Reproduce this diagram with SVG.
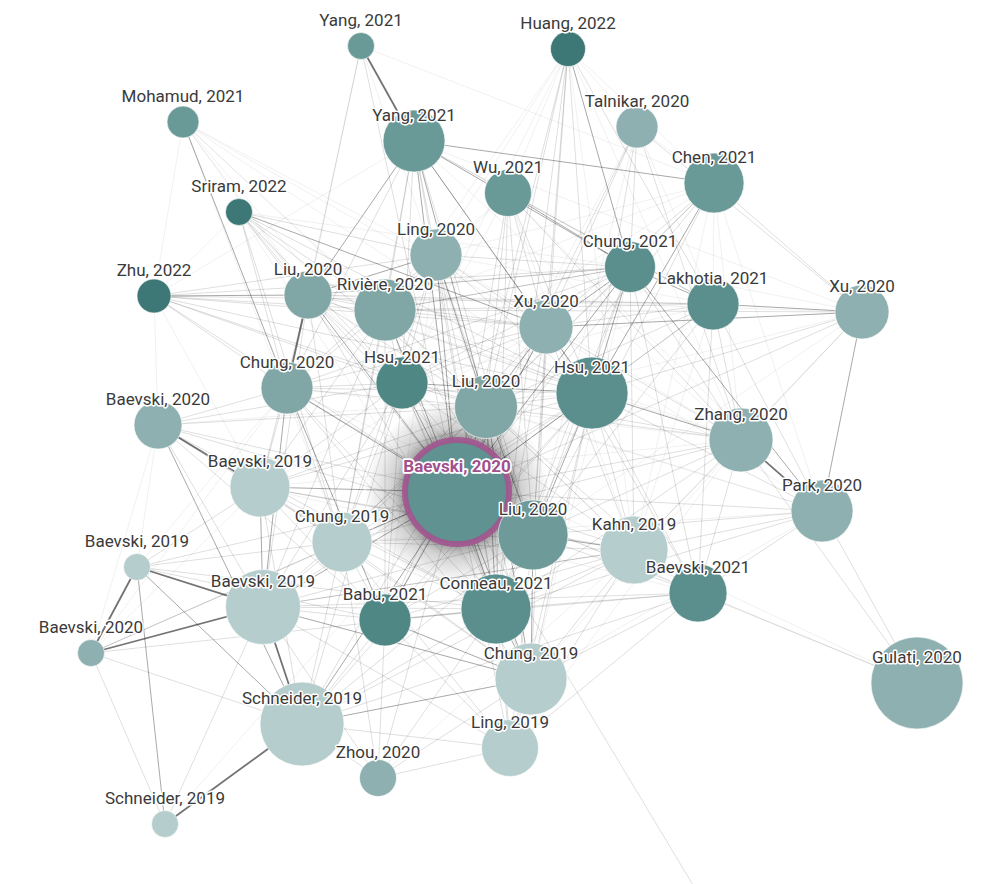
<svg xmlns="http://www.w3.org/2000/svg" width="992" height="884" viewBox="0 0 992 884">
<style>
#edges path{fill:none;stroke:#000;stroke-width:1}
#edges .a{stroke-opacity:.06}
#edges .b{stroke-opacity:.13}
#edges .c{stroke-opacity:.34}
#edges .d{stroke-opacity:.55;stroke-width:1.8}
circle{stroke:#fff;stroke-opacity:.6;stroke-width:1}
.k22{fill:#3d7876}.k21d{fill:#4f8785}.k21{fill:#5b8f8d}.k21l{fill:#6a9a98}.k20d{fill:#6e9b99}.k20{fill:#80a6a5}.k20l{fill:#8eb0b0}.k19{fill:#b5cdcc}
text{font-family:Roboto,"Liberation Sans",sans-serif;font-size:17px;text-anchor:middle;stroke:#fff;stroke-width:3;paint-order:stroke;stroke-linejoin:round}
.l{fill:#3a3a3a}
.hl{fill:#a0508c;font-weight:bold;stroke-width:3.5}
.hub{fill:#5f9290;stroke:#a3558f;stroke-width:6;stroke-opacity:.9}
</style>
<defs>
<radialGradient id="glow" gradientUnits="userSpaceOnUse" cx="457" cy="492" r="92">
<stop offset="0.55" stop-color="#000" stop-opacity=".42"/>
<stop offset="0.7" stop-color="#000" stop-opacity=".18"/>
<stop offset="1" stop-color="#000" stop-opacity="0"/>
</radialGradient>
</defs>
<rect width="992" height="884" fill="#fff"/>
<g id="edges">
<path class="b" d="M457 492L361 46"/><path class="b" d="M457 492L568 49"/><path class="a" d="M457 492L183 122"/><path class="b" d="M457 492L637 127"/><path class="c" d="M457 492L414 141"/><path class="b" d="M457 492L714 183"/><path class="b" d="M457 492L508 193"/><path class="b" d="M457 492L239 212"/><path class="c" d="M457 492L436 255"/><path class="c" d="M457 492L630 267"/><path class="b" d="M457 492L154 296"/><path class="c" d="M457 492L308 295"/><path class="c" d="M457 492L385 310"/><path class="b" d="M457 492L713 304"/><path class="b" d="M457 492L862 312"/><path class="c" d="M457 492L546 327"/><path class="c" d="M457 492L287 388"/><path class="c" d="M457 492L402 383"/><path class="c" d="M457 492L486 407"/><path class="c" d="M457 492L592 393"/><path class="b" d="M457 492L158 425"/><path class="b" d="M457 492L741 440"/><path class="c" d="M457 492L260 487"/><path class="b" d="M457 492L822 511"/><path class="c" d="M457 492L533 535"/><path class="b" d="M457 492L634 550"/><path class="c" d="M457 492L342 542"/><path class="b" d="M457 492L137 567"/><path class="c" d="M457 492L263 607"/><path class="c" d="M457 492L496 609"/><path class="c" d="M457 492L385 620"/><path class="b" d="M457 492L698 593"/><path class="b" d="M457 492L91 653"/><path class="c" d="M457 492L531 679"/><path class="a" d="M457 492L917 683"/><path class="c" d="M457 492L302 724"/><path class="b" d="M457 492L510 748"/><path class="b" d="M457 492L378 778"/><path class="a" d="M457 492L165 824"/><path class="b" d="M457 492L720 930"/>
<path class="d" d="M361 46L414 141"/><path class="b" d="M361 46L308 295"/><path class="a" d="M361 46L287 388"/><path class="a" d="M361 46L486 407"/><path class="a" d="M361 46L714 183"/>
<path class="b" d="M568 49L546 327"/><path class="b" d="M568 49L592 393"/><path class="c" d="M568 49L630 267"/><path class="b" d="M568 49L486 407"/><path class="b" d="M568 49L533 535"/><path class="b" d="M568 49L496 609"/><path class="a" d="M568 49L402 383"/><path class="b" d="M568 49L713 304"/><path class="a" d="M568 49L634 550"/><path class="a" d="M568 49L508 193"/><path class="a" d="M568 49L436 255"/><path class="a" d="M568 49L714 183"/><path class="a" d="M568 49L385 310"/><path class="a" d="M568 49L741 440"/><path class="a" d="M568 49L637 127"/>
<path class="c" d="M183 122L287 388"/><path class="a" d="M183 122L154 296"/><path class="a" d="M183 122L308 295"/><path class="a" d="M183 122L385 310"/><path class="a" d="M183 122L402 383"/><path class="a" d="M183 122L546 327"/><path class="a" d="M183 122L436 255"/><path class="a" d="M183 122L486 407"/><path class="a" d="M183 122L592 393"/><path class="a" d="M183 122L342 542"/>
<path class="b" d="M637 127L546 327"/><path class="b" d="M637 127L592 393"/><path class="b" d="M637 127L630 267"/><path class="a" d="M637 127L713 304"/><path class="b" d="M637 127L862 312"/><path class="b" d="M637 127L741 440"/><path class="a" d="M637 127L533 535"/><path class="a" d="M637 127L714 183"/><path class="a" d="M637 127L486 407"/>
<path class="c" d="M414 141L714 183"/><path class="c" d="M414 141L630 267"/><path class="c" d="M414 141L546 327"/><path class="c" d="M414 141L308 295"/><path class="b" d="M414 141L287 388"/><path class="b" d="M414 141L385 310"/><path class="b" d="M414 141L402 383"/><path class="c" d="M414 141L486 407"/><path class="b" d="M414 141L436 255"/><path class="b" d="M414 141L592 393"/><path class="a" d="M414 141L154 296"/><path class="b" d="M414 141L533 535"/><path class="b" d="M414 141L496 609"/><path class="b" d="M414 141L713 304"/><path class="a" d="M414 141L741 440"/><path class="a" d="M414 141L508 193"/><path class="b" d="M414 141L342 542"/><path class="a" d="M414 141L862 312"/>
<path class="c" d="M714 183L592 393"/><path class="b" d="M714 183L546 327"/><path class="b" d="M714 183L630 267"/><path class="a" d="M714 183L713 304"/><path class="b" d="M714 183L862 312"/><path class="a" d="M714 183L741 440"/><path class="b" d="M714 183L486 407"/><path class="b" d="M714 183L533 535"/><path class="a" d="M714 183L634 550"/><path class="a" d="M714 183L385 310"/><path class="a" d="M714 183L436 255"/><path class="a" d="M714 183L402 383"/><path class="a" d="M714 183L822 511"/>
<path class="c" d="M508 193L630 267"/><path class="b" d="M508 193L546 327"/><path class="b" d="M508 193L592 393"/><path class="b" d="M508 193L486 407"/><path class="b" d="M508 193L713 304"/><path class="b" d="M508 193L533 535"/><path class="b" d="M508 193L496 609"/><path class="b" d="M508 193L741 440"/><path class="a" d="M508 193L822 511"/><path class="a" d="M508 193L402 383"/><path class="a" d="M508 193L436 255"/><path class="a" d="M508 193L385 310"/><path class="a" d="M508 193L634 550"/>
<path class="b" d="M239 212L308 295"/><path class="b" d="M239 212L385 310"/><path class="b" d="M239 212L287 388"/><path class="b" d="M239 212L402 383"/><path class="c" d="M239 212L546 327"/><path class="b" d="M239 212L486 407"/><path class="b" d="M239 212L592 393"/><path class="b" d="M239 212L436 255"/><path class="a" d="M239 212L630 267"/><path class="a" d="M239 212L154 296"/><path class="b" d="M239 212L342 542"/><path class="a" d="M239 212L533 535"/><path class="a" d="M239 212L496 609"/>
<path class="c" d="M436 255L308 295"/><path class="b" d="M436 255L385 310"/><path class="b" d="M436 255L546 327"/><path class="c" d="M436 255L486 407"/><path class="b" d="M436 255L592 393"/><path class="b" d="M436 255L402 383"/><path class="b" d="M436 255L533 535"/><path class="b" d="M436 255L496 609"/><path class="b" d="M436 255L630 267"/><path class="b" d="M436 255L287 388"/><path class="b" d="M436 255L342 542"/><path class="a" d="M436 255L741 440"/><path class="a" d="M436 255L713 304"/><path class="b" d="M436 255L531 679"/><path class="a" d="M436 255L385 620"/>
<path class="c" d="M630 267L546 327"/><path class="c" d="M630 267L592 393"/><path class="c" d="M630 267L713 304"/><path class="b" d="M630 267L486 407"/><path class="b" d="M630 267L385 310"/><path class="b" d="M630 267L308 295"/><path class="b" d="M630 267L402 383"/><path class="b" d="M630 267L741 440"/><path class="c" d="M630 267L822 511"/><path class="b" d="M630 267L533 535"/><path class="b" d="M630 267L496 609"/><path class="b" d="M630 267L634 550"/><path class="a" d="M630 267L862 312"/><path class="b" d="M630 267L698 593"/><path class="b" d="M630 267L287 388"/><path class="a" d="M630 267L531 679"/>
<path class="c" d="M154 296L308 295"/><path class="b" d="M154 296L385 310"/><path class="b" d="M154 296L546 327"/><path class="b" d="M154 296L630 267"/><path class="b" d="M154 296L713 304"/><path class="b" d="M154 296L402 383"/><path class="b" d="M154 296L592 393"/><path class="b" d="M154 296L486 407"/><path class="b" d="M154 296L436 255"/><path class="b" d="M154 296L287 388"/><path class="a" d="M154 296L158 425"/><path class="a" d="M154 296L260 487"/>
<path class="d" d="M308 295L287 388"/><path class="b" d="M308 295L385 310"/><path class="b" d="M308 295L546 327"/><path class="b" d="M308 295L402 383"/><path class="b" d="M308 295L486 407"/><path class="b" d="M308 295L592 393"/><path class="b" d="M308 295L713 304"/><path class="b" d="M308 295L630 267"/><path class="b" d="M308 295L260 487"/><path class="b" d="M308 295L342 542"/><path class="b" d="M308 295L533 535"/><path class="b" d="M308 295L496 609"/><path class="b" d="M308 295L263 607"/><path class="a" d="M308 295L741 440"/><path class="a" d="M308 295L862 312"/>
<path class="b" d="M385 310L287 388"/><path class="b" d="M385 310L546 327"/><path class="b" d="M385 310L402 383"/><path class="b" d="M385 310L486 407"/><path class="b" d="M385 310L592 393"/><path class="b" d="M385 310L533 535"/><path class="b" d="M385 310L862 312"/><path class="b" d="M385 310L713 304"/><path class="b" d="M385 310L260 487"/><path class="b" d="M385 310L342 542"/><path class="b" d="M385 310L263 607"/><path class="b" d="M385 310L385 620"/><path class="b" d="M385 310L496 609"/><path class="a" d="M385 310L741 440"/><path class="b" d="M385 310L630 267"/><path class="a" d="M385 310L634 550"/>
<path class="c" d="M713 304L862 312"/><path class="b" d="M713 304L546 327"/><path class="b" d="M713 304L592 393"/><path class="b" d="M713 304L741 440"/><path class="b" d="M713 304L822 511"/><path class="b" d="M713 304L533 535"/><path class="b" d="M713 304L486 407"/><path class="b" d="M713 304L698 593"/><path class="a" d="M713 304L634 550"/><path class="a" d="M713 304L402 383"/>
<path class="c" d="M862 312L822 511"/><path class="c" d="M862 312L546 327"/><path class="b" d="M862 312L741 440"/><path class="b" d="M862 312L592 393"/><path class="a" d="M862 312L486 407"/><path class="a" d="M862 312L533 535"/><path class="a" d="M862 312L634 550"/>
<path class="c" d="M546 327L592 393"/><path class="c" d="M546 327L486 407"/><path class="b" d="M546 327L402 383"/><path class="b" d="M546 327L287 388"/><path class="b" d="M546 327L741 440"/><path class="b" d="M546 327L533 535"/><path class="b" d="M546 327L634 550"/><path class="b" d="M546 327L496 609"/><path class="b" d="M546 327L342 542"/><path class="b" d="M546 327L385 620"/><path class="a" d="M546 327L822 511"/><path class="b" d="M546 327L698 593"/><path class="b" d="M546 327L531 679"/><path class="a" d="M546 327L260 487"/>
<path class="b" d="M287 388L402 383"/><path class="b" d="M287 388L486 407"/><path class="b" d="M287 388L592 393"/><path class="b" d="M287 388L260 487"/><path class="b" d="M287 388L342 542"/><path class="c" d="M287 388L263 607"/><path class="c" d="M287 388L385 620"/><path class="b" d="M287 388L496 609"/><path class="b" d="M287 388L533 535"/><path class="b" d="M287 388L158 425"/><path class="a" d="M287 388L741 440"/><path class="a" d="M287 388L634 550"/><path class="a" d="M287 388L137 567"/><path class="a" d="M287 388L91 653"/><path class="b" d="M287 388L531 679"/>
<path class="b" d="M402 383L486 407"/><path class="c" d="M402 383L592 393"/><path class="b" d="M402 383L533 535"/><path class="b" d="M402 383L496 609"/><path class="b" d="M402 383L342 542"/><path class="b" d="M402 383L260 487"/><path class="b" d="M402 383L263 607"/><path class="b" d="M402 383L385 620"/><path class="b" d="M402 383L741 440"/><path class="b" d="M402 383L634 550"/><path class="b" d="M402 383L531 679"/><path class="b" d="M402 383L302 724"/><path class="a" d="M402 383L822 511"/>
<path class="b" d="M486 407L592 393"/><path class="c" d="M486 407L533 535"/><path class="c" d="M486 407L496 609"/><path class="b" d="M486 407L342 542"/><path class="b" d="M486 407L260 487"/><path class="b" d="M486 407L385 620"/><path class="b" d="M486 407L634 550"/><path class="b" d="M486 407L741 440"/><path class="b" d="M486 407L698 593"/><path class="c" d="M486 407L531 679"/><path class="b" d="M486 407L263 607"/><path class="b" d="M486 407L302 724"/><path class="b" d="M486 407L510 748"/><path class="a" d="M486 407L822 511"/>
<path class="c" d="M592 393L741 440"/><path class="c" d="M592 393L533 535"/><path class="b" d="M592 393L634 550"/><path class="b" d="M592 393L496 609"/><path class="b" d="M592 393L698 593"/><path class="b" d="M592 393L822 511"/><path class="b" d="M592 393L342 542"/><path class="b" d="M592 393L260 487"/><path class="b" d="M592 393L385 620"/><path class="b" d="M592 393L531 679"/><path class="b" d="M592 393L263 607"/><path class="b" d="M592 393L510 748"/><path class="b" d="M592 393L302 724"/><path class="a" d="M592 393L158 425"/>
<path class="d" d="M158 425L260 487"/><path class="c" d="M158 425L302 724"/><path class="b" d="M158 425L342 542"/><path class="b" d="M158 425L263 607"/><path class="b" d="M158 425L385 620"/><path class="b" d="M158 425L533 535"/><path class="b" d="M158 425L496 609"/><path class="a" d="M158 425L137 567"/><path class="a" d="M158 425L91 653"/><path class="b" d="M158 425L402 383"/><path class="b" d="M158 425L486 407"/>
<path class="d" d="M741 440L822 511"/><path class="b" d="M741 440L917 683"/><path class="b" d="M741 440L698 593"/><path class="b" d="M741 440L634 550"/><path class="b" d="M741 440L533 535"/><path class="b" d="M741 440L496 609"/><path class="a" d="M741 440L531 679"/><path class="b" d="M741 440L342 542"/><path class="a" d="M741 440L260 487"/><path class="a" d="M741 440L510 748"/>
<path class="c" d="M260 487L263 607"/><path class="b" d="M260 487L302 724"/><path class="b" d="M260 487L342 542"/><path class="b" d="M260 487L385 620"/><path class="b" d="M260 487L496 609"/><path class="b" d="M260 487L533 535"/><path class="b" d="M260 487L634 550"/><path class="b" d="M260 487L531 679"/><path class="b" d="M260 487L137 567"/><path class="a" d="M260 487L91 653"/><path class="a" d="M260 487L698 593"/>
<path class="b" d="M822 511L634 550"/><path class="b" d="M822 511L698 593"/><path class="b" d="M822 511L917 683"/><path class="b" d="M822 511L533 535"/><path class="a" d="M822 511L531 679"/><path class="b" d="M822 511L496 609"/><path class="a" d="M822 511L342 542"/>
<path class="c" d="M533 535L634 550"/><path class="b" d="M533 535L496 609"/><path class="c" d="M533 535L531 679"/><path class="b" d="M533 535L385 620"/><path class="b" d="M533 535L342 542"/><path class="b" d="M533 535L263 607"/><path class="b" d="M533 535L698 593"/><path class="b" d="M533 535L510 748"/><path class="b" d="M533 535L302 724"/>
<path class="b" d="M634 550L698 593"/><path class="b" d="M634 550L496 609"/><path class="b" d="M634 550L531 679"/><path class="b" d="M634 550L510 748"/><path class="b" d="M634 550L342 542"/><path class="b" d="M634 550L263 607"/><path class="b" d="M634 550L385 620"/><path class="b" d="M634 550L302 724"/><path class="a" d="M634 550L917 683"/><path class="a" d="M634 550L378 778"/>
<path class="b" d="M342 542L263 607"/><path class="b" d="M342 542L385 620"/><path class="b" d="M342 542L496 609"/><path class="b" d="M342 542L531 679"/><path class="b" d="M342 542L302 724"/><path class="b" d="M342 542L510 748"/><path class="b" d="M342 542L378 778"/><path class="b" d="M342 542L137 567"/><path class="b" d="M342 542L91 653"/>
<path class="d" d="M137 567L263 607"/><path class="d" d="M137 567L91 653"/><path class="c" d="M137 567L165 824"/><path class="c" d="M137 567L302 724"/><path class="b" d="M137 567L496 609"/><path class="b" d="M137 567L385 620"/>
<path class="d" d="M263 607L302 724"/><path class="b" d="M263 607L385 620"/><path class="b" d="M263 607L496 609"/><path class="c" d="M263 607L531 679"/><path class="b" d="M263 607L510 748"/><path class="b" d="M263 607L378 778"/><path class="b" d="M263 607L165 824"/><path class="d" d="M263 607L91 653"/><path class="b" d="M263 607L698 593"/><path class="b" d="M263 607L634 550"/>
<path class="c" d="M496 609L531 679"/><path class="b" d="M496 609L385 620"/><path class="b" d="M496 609L510 748"/><path class="b" d="M496 609L302 724"/><path class="b" d="M496 609L698 593"/><path class="b" d="M496 609L378 778"/>
<path class="c" d="M385 620L531 679"/><path class="b" d="M385 620L302 724"/><path class="b" d="M385 620L510 748"/><path class="b" d="M385 620L378 778"/><path class="b" d="M385 620L698 593"/>
<path class="b" d="M698 593L917 683"/><path class="b" d="M698 593L531 679"/><path class="b" d="M698 593L510 748"/><path class="b" d="M698 593L302 724"/>
<path class="b" d="M91 653L302 724"/><path class="b" d="M91 653L165 824"/><path class="b" d="M91 653L496 609"/>
<path class="b" d="M531 679L510 748"/><path class="c" d="M531 679L302 724"/><path class="b" d="M531 679L378 778"/>
<path class="d" d="M302 724L165 824"/><path class="b" d="M302 724L510 748"/><path class="b" d="M302 724L378 778"/>
<path class="b" d="M510 748L378 778"/>
</g>
<circle cx="457" cy="492" r="92" fill="url(#glow)" stroke="none"/>
<g id="nodes">
<g id="node-baevski-2020-hub"><circle class="hub" cx="457" cy="492" r="52"/></g>
<g id="node-yang-2021-a"><circle class="k21l" cx="361" cy="46" r="13.5"/><text class="l" x="361" y="26">Yang, 2021</text></g>
<g id="node-huang-2022"><circle class="k22" cx="568" cy="49" r="17.5"/><text class="l" x="568" y="29">Huang, 2022</text></g>
<g id="node-mohamud-2021"><circle class="k21l" cx="183" cy="122" r="16"/><text class="l" x="183" y="102">Mohamud, 2021</text></g>
<g id="node-talnikar-2020"><circle class="k20l" cx="637" cy="127" r="21"/><text class="l" x="637" y="107">Talnikar, 2020</text></g>
<g id="node-yang-2021-b"><circle class="k21l" cx="414" cy="141" r="31"/><text class="l" x="414" y="121">Yang, 2021</text></g>
<g id="node-chen-2021"><circle class="k21l" cx="714" cy="183" r="30"/><text class="l" x="714" y="163">Chen, 2021</text></g>
<g id="node-wu-2021"><circle class="k21l" cx="508" cy="193" r="23.5"/><text class="l" x="508" y="173">Wu, 2021</text></g>
<g id="node-sriram-2022"><circle class="k22" cx="239" cy="212" r="13.5"/><text class="l" x="239" y="192">Sriram, 2022</text></g>
<g id="node-ling-2020"><circle class="k20l" cx="436" cy="255" r="26"/><text class="l" x="436" y="235">Ling, 2020</text></g>
<g id="node-chung-2021"><circle class="k21" cx="630" cy="267" r="25.5"/><text class="l" x="630" y="247">Chung, 2021</text></g>
<g id="node-zhu-2022"><circle class="k22" cx="154" cy="296" r="17"/><text class="l" x="154" y="276">Zhu, 2022</text></g>
<g id="node-liu-2020-a"><circle class="k20" cx="308" cy="295" r="24"/><text class="l" x="308" y="275">Liu, 2020</text></g>
<g id="node-riviere-2020"><circle class="k20" cx="385" cy="310" r="31"/><text class="l" x="385" y="290">Rivière, 2020</text></g>
<g id="node-lakhotia-2021"><circle class="k21" cx="713" cy="304" r="26"/><text class="l" x="713" y="284">Lakhotia, 2021</text></g>
<g id="node-xu-2020-a"><circle class="k20l" cx="862" cy="312" r="27"/><text class="l" x="862" y="292">Xu, 2020</text></g>
<g id="node-xu-2020-b"><circle class="k20l" cx="546" cy="327" r="27"/><text class="l" x="546" y="307">Xu, 2020</text></g>
<g id="node-chung-2020"><circle class="k20" cx="287" cy="388" r="26"/><text class="l" x="287" y="368">Chung, 2020</text></g>
<g id="node-hsu-2021-a"><circle class="k21d" cx="402" cy="383" r="26"/><text class="l" x="402" y="363">Hsu, 2021</text></g>
<g id="node-liu-2020-b"><circle class="k20" cx="486" cy="407" r="31.5"/><text class="l" x="486" y="387">Liu, 2020</text></g>
<g id="node-hsu-2021-b"><circle class="k21" cx="592" cy="393" r="36"/><text class="l" x="592" y="373">Hsu, 2021</text></g>
<g id="node-baevski-2020-a"><circle class="k20l" cx="158" cy="425" r="24"/><text class="l" x="158" y="405">Baevski, 2020</text></g>
<g id="node-zhang-2020"><circle class="k20l" cx="741" cy="440" r="32"/><text class="l" x="741" y="420">Zhang, 2020</text></g>
<g id="node-baevski-2019-a"><circle class="k19" cx="260" cy="487" r="30"/><text class="l" x="260" y="467">Baevski, 2019</text></g>
<g id="node-park-2020"><circle class="k20l" cx="822" cy="511" r="31"/><text class="l" x="822" y="491">Park, 2020</text></g>
<g id="node-liu-2020-c"><circle class="k20d" cx="533" cy="535" r="35"/><text class="l" x="533" y="515">Liu, 2020</text></g>
<g id="node-kahn-2019"><circle class="k19" cx="634" cy="550" r="34"/><text class="l" x="634" y="530">Kahn, 2019</text></g>
<g id="node-chung-2019-a"><circle class="k19" cx="342" cy="542" r="30"/><text class="l" x="342" y="522">Chung, 2019</text></g>
<g id="node-baevski-2019-b"><circle class="k19" cx="137" cy="567" r="13.5"/><text class="l" x="137" y="547">Baevski, 2019</text></g>
<g id="node-baevski-2019-c"><circle class="k19" cx="263" cy="607" r="37.5"/><text class="l" x="263" y="587">Baevski, 2019</text></g>
<g id="node-conneau-2021"><circle class="k21" cx="496" cy="609" r="35"/><text class="l" x="496" y="589">Conneau, 2021</text></g>
<g id="node-babu-2021"><circle class="k21d" cx="385" cy="620" r="26"/><text class="l" x="385" y="600">Babu, 2021</text></g>
<g id="node-baevski-2021"><circle class="k21" cx="698" cy="593" r="29"/><text class="l" x="698" y="573">Baevski, 2021</text></g>
<g id="node-baevski-2020-b"><circle class="k20l" cx="91" cy="653" r="13.5"/><text class="l" x="91" y="633">Baevski, 2020</text></g>
<g id="node-chung-2019-b"><circle class="k19" cx="531" cy="679" r="36"/><text class="l" x="531" y="659">Chung, 2019</text></g>
<g id="node-gulati-2020"><circle class="k20l" cx="917" cy="683" r="46"/><text class="l" x="917" y="663">Gulati, 2020</text></g>
<g id="node-schneider-2019-a"><circle class="k19" cx="302" cy="724" r="42"/><text class="l" x="302" y="704">Schneider, 2019</text></g>
<g id="node-ling-2019"><circle class="k19" cx="510" cy="748" r="28.5"/><text class="l" x="510" y="728">Ling, 2019</text></g>
<g id="node-zhou-2020"><circle class="k20l" cx="378" cy="778" r="18.5"/><text class="l" x="378" y="758">Zhou, 2020</text></g>
<g id="node-schneider-2019-b"><circle class="k19" cx="165" cy="824" r="13.5"/><text class="l" x="165" y="804">Schneider, 2019</text></g>
<g id="node-baevski-2020-hub-label"><text class="hl" x="457" y="472">Baevski, 2020</text></g>
</g>
</svg>
